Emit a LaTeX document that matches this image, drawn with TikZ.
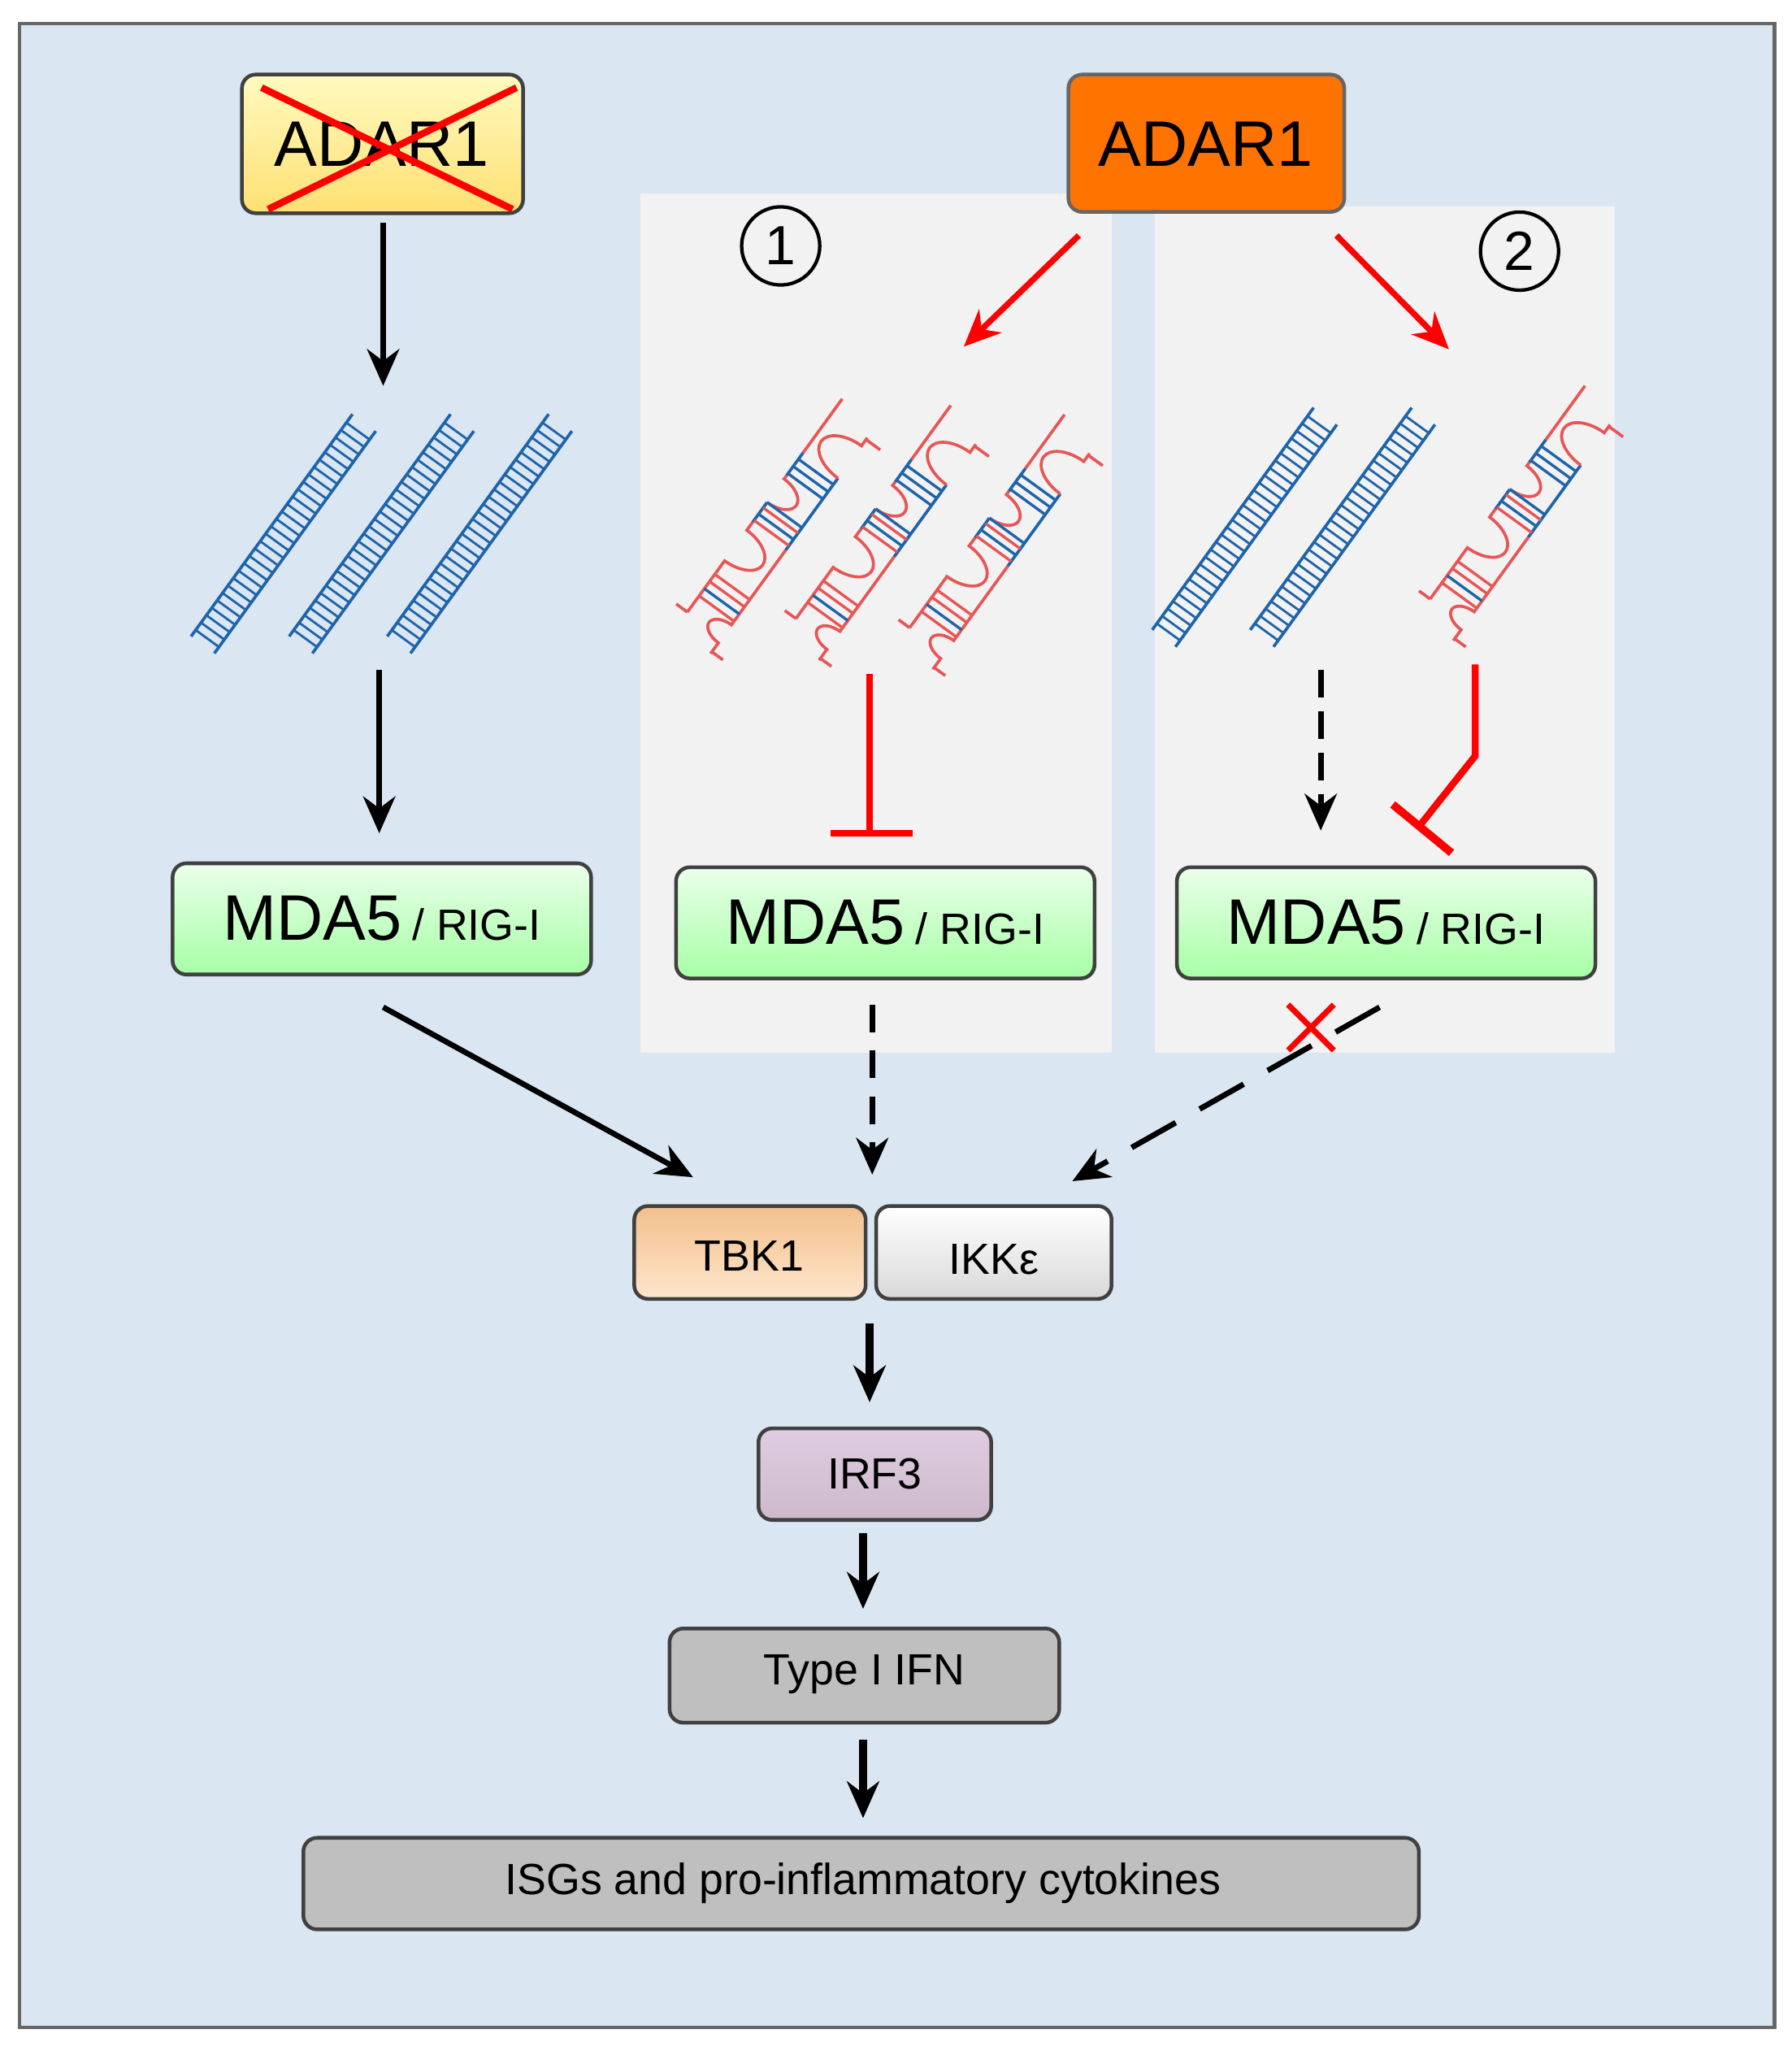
\documentclass[tikz,border=0pt]{standalone}
\usepackage{fontspec}
\setmainfont{Liberation Sans}
\usetikzlibrary{arrows.meta,calc}
\definecolor{bgblue}{RGB}{218,230,242}
\definecolor{panel}{RGB}{242,242,242}
\definecolor{rnab}{RGB}{30,100,170}
\definecolor{rnar}{RGB}{232,85,85}
\begin{document}
\begin{tikzpicture}[x=0.02cm,y=-0.02cm,
  box/.style={draw=black!75,line width=1.6pt,rounded corners=6pt},
  blk/.style={-{Stealth[length=16pt,width=14pt]},line width=2.4pt},
  red/.style={draw=red,line width=2.6pt},
  ladder/.pic={\draw[rnab,line width=1.3pt] (0,-11)--(210,-11) (0,11)--(210,11);
     \foreach \u in {6,13,...,204} \draw[rnab,line width=1pt] (\u,-11)--(\u,11);},
  hairpin/.pic={
     \begin{scope}[line width=1.3pt,yscale=-1.5,xscale=0.85]
     \draw[rnar] (0,-11)--(12,-11) arc[start angle=180,end angle=0,radius=10] -- (115,-11);
     \draw[rnab] (115,-11)--(195,-11);
     \draw[rnar] (195,-11) arc[start angle=180,end angle=0,radius=18] -- (240,-11) (238,-11)--(238,-20);
     \draw[rnar] (2,-11)--(2,-18);
     \draw[rnar] (18,11)--(75,11) arc[start angle=180,end angle=360,radius=17] -- (118,11);
     \draw[rnab] (118,11)--(140,11);
     \draw[rnar] (140,11) arc[start angle=180,end angle=360,radius=13] -- (170,11);
     \draw[rnar] (195,11)--(255,11) (18,11)--(18,18);
     \draw[rnab] (170,11)--(195,11);
     \foreach \u/\c in {36/rnar,44/rnab,52/rnar,60/rnar,120/rnar,127/rnab,134/rnar,140/rnab,
        172/rnab,180/rnab,188/rnab}
        \draw[\c,line width=1.2pt] (\u,-11)--(\u,11);
     \end{scope}}
]
\useasboundingbox (0,0) rectangle (1370,1568);
\fill[white] (0,0) rectangle (1370,1568);
\draw[fill=bgblue,draw=black!60,line width=1.5pt] (15,18) rectangle (1357,1550);
\fill[panel] (490,148) rectangle (850,805);
\fill[panel] (883,158) rectangle (1235,805);
% ADAR1 boxes
\draw[box,top color=orange!15!yellow!25,bottom color=orange!45!yellow!55] (185,57) rectangle (400,163);
\node[font=\fontsize{28}{30}\selectfont] (adar0) at (292,110) {ADAR1};
\draw[red,line width=3pt] (200,67)--(392,160) (395,67)--(205,160);
\draw[box,fill=orange!90!red,draw=black!60] (817,57) rectangle (1028,162);
\node[font=\fontsize{28}{30}\selectfont] (adar) at (922,110) {ADAR1};
\node[draw,circle,line width=1.5pt,minimum size=34pt,font=\fontsize{24}{26}\selectfont,inner sep=0pt] (c1) at (597,188) {1};
\node[draw,circle,line width=1.5pt,minimum size=34pt,font=\fontsize{24}{26}\selectfont,inner sep=0pt] (c2) at (1162,192) {2};
% RNAs
\pic[rotate=54] at (155,493) {ladder};
\pic[rotate=54] at (230,493) {ladder};
\pic[rotate=54] at (305,493) {ladder};
\pic[rotate=54] at (530,490) {hairpin};
\pic[rotate=54] at (613,495) {hairpin};
\pic[rotate=54] at (700,502) {hairpin};
\pic[rotate=54] at (890,488) {ladder};
\pic[rotate=54] at (965,488) {ladder};
\pic[rotate=54] at (1098,480) {hairpin};
% connectors
\coordinate (s1) at (293,170); \coordinate (e1) at (293,295);
\coordinate (s2) at (290,512); \coordinate (e2) at (290,637);
\draw[blk] (s1)--(e1);
\draw[blk] (s2)--(e2);
\draw[red,-{Stealth[length=16pt,width=14pt]}] (825,180)--(737,265);
\draw[red,-{Stealth[length=16pt,width=14pt]}] (1022,180)--(1108,267);
\draw[red] (665,515)--(665,637); \draw[red,line width=3pt] (635,637)--(698,637);
\draw[blk,dashed,dash pattern=on 12pt off 6pt] (1010,512)--(1010,635);
\draw[red,line width=3pt] (1128,508)--(1128,578)--(1085,632);
\draw[red,line width=3.5pt] (1065,615)--(1110,652);
% MDA5
\foreach \n/\x/\y in {m1/132/660,m2/517/663,m3/900/663}{
  \draw[box,top color=green!8,bottom color=green!35!white] (\x,\y) rectangle ++(320,85);
  \node (\n) at ($(\x,\y)+(160,42)$) {\fontsize{28}{30}\selectfont MDA5\,\fontsize{19}{21}\selectfont/ RIG-I};}
% TBK1 IKKe
\draw[box,top color=orange!60!brown!50,bottom color=orange!20] (485,922) rectangle (662,993);
\node[font=\fontsize{19}{21}\selectfont] (tbk) at (573,960) {TBK1};
\draw[box,top color=white,bottom color=black!15] (670,922) rectangle (850,993);
\node[font=\fontsize{19}{21}\selectfont] (ikk) at (760,963) {IKKε};
\draw[blk] (293,770)--(530,900);
\draw[blk,dashed,dash pattern=on 12pt off 8pt] (667,768)--(667,898);
\draw[blk,dashed,dash pattern=on 22pt off 12pt] (1055,770)--(820,903);
\draw[red,line width=2.5pt] (985,768)--(1020,803) (1020,768)--(985,803);
\draw[box,top color=black!20!violet!20,bottom color=violet!35!gray!40] (580,1092) rectangle (758,1162);
\node[font=\fontsize{19}{21}\selectfont] (irf) at (669,1127) {IRF3};
\draw[box,fill=black!25] (512,1245) rectangle (810,1317);
\node[font=\fontsize{19}{21}\selectfont] (ifn) at (661,1280) {Type I IFN};
\draw[box,fill=black!25] (232,1405) rectangle (1085,1475);
\node[font=\fontsize{19}{21}\selectfont] (isg) at (660,1440) {ISGs and pro-inflammatory cytokines};
\draw[blk,line width=3.5pt] (665,1012)--(665,1072);
\draw[blk,line width=3.5pt] (660,1172)--(660,1230);
\draw[blk,line width=3.5pt] (660,1330)--(660,1390);
\end{tikzpicture}
\end{document}
